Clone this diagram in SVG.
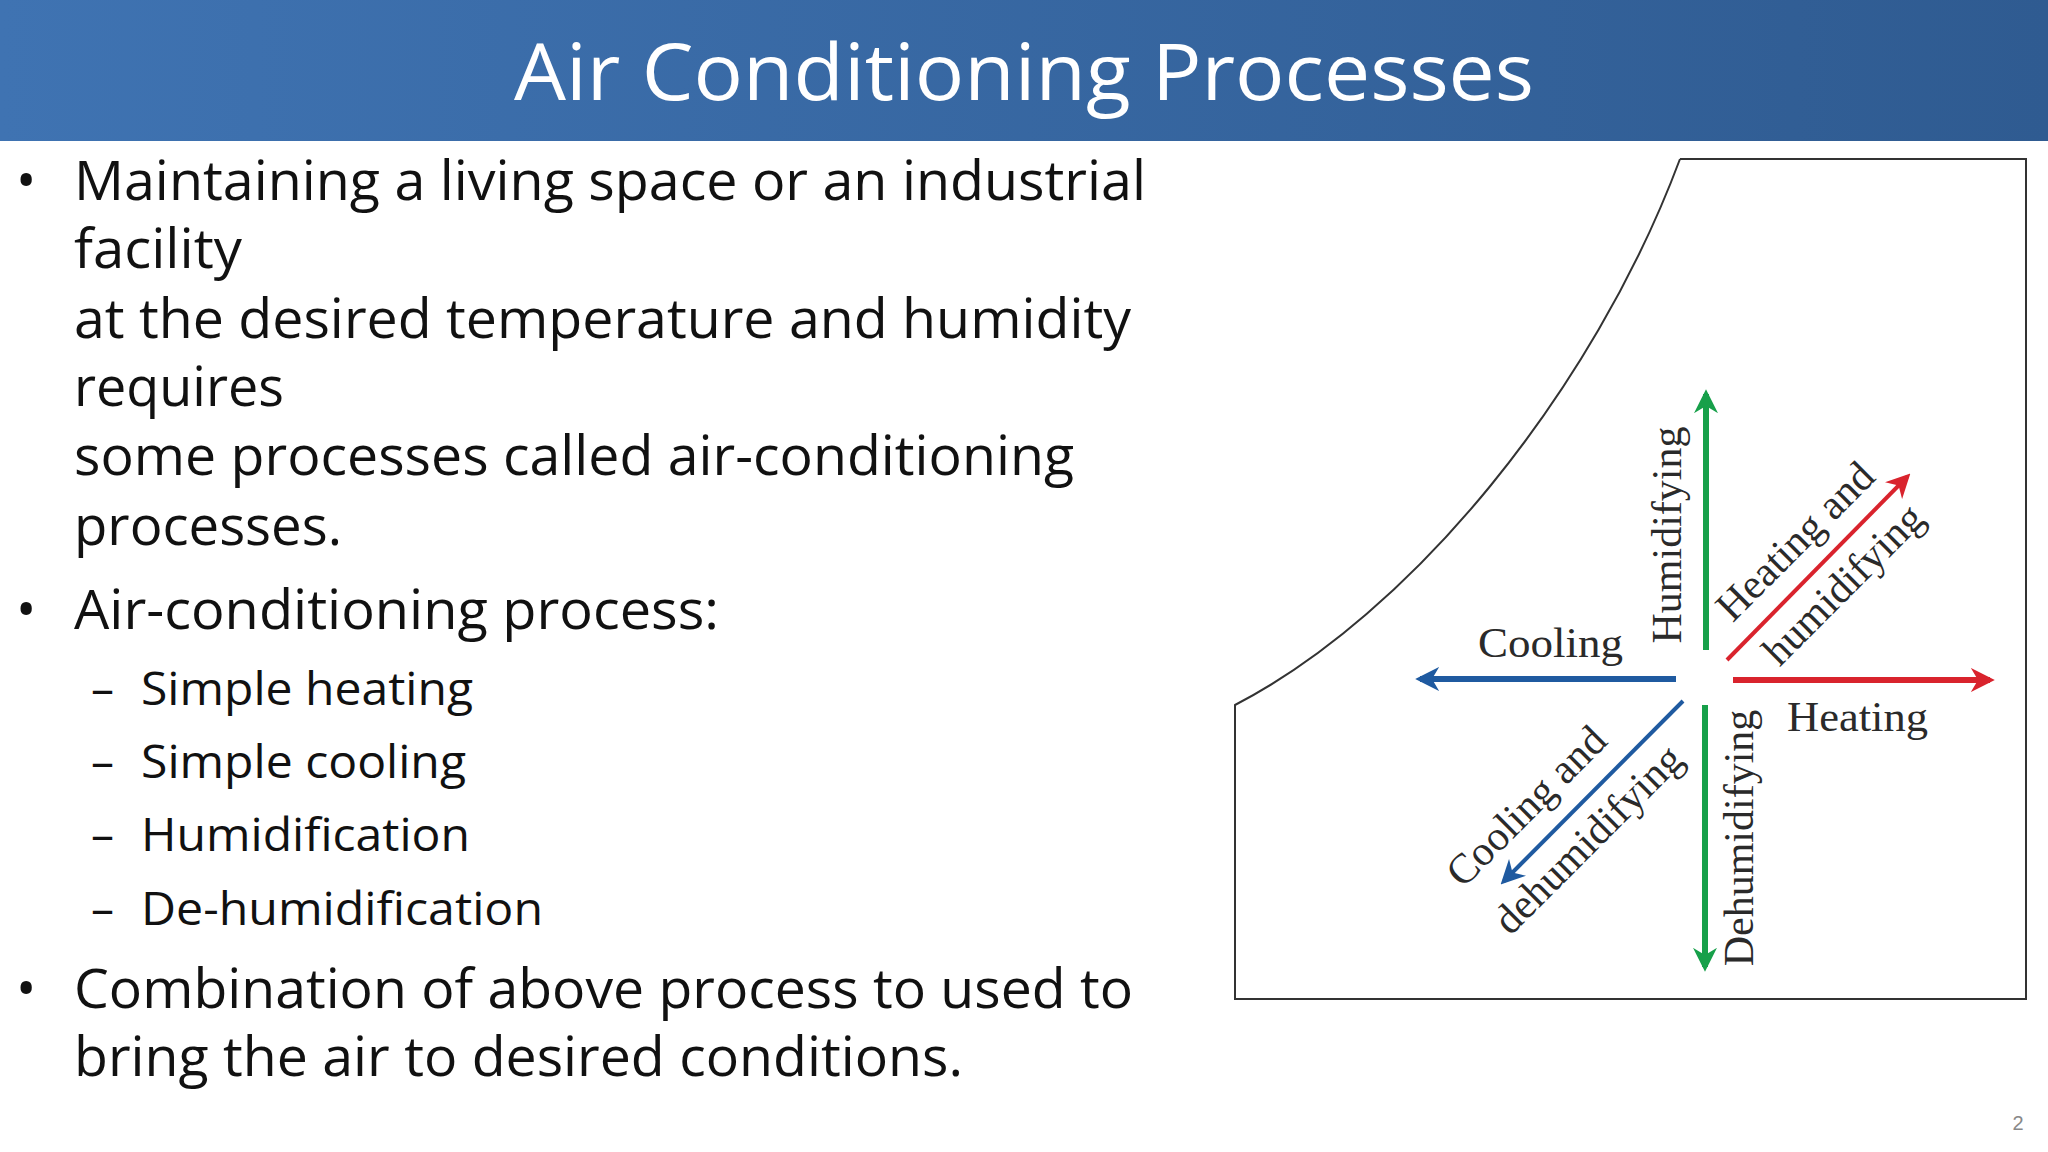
<svg xmlns="http://www.w3.org/2000/svg" width="2048" height="1152" viewBox="0 0 2048 1152">
<defs>
<linearGradient id="hg" x1="0" y1="0" x2="1" y2="0"><stop offset="0" stop-color="#3f73b2"/><stop offset="1" stop-color="#2f5b91"/></linearGradient>
<marker id="mb" viewBox="0 0 10 10" refX="8" refY="5" markerWidth="4" markerHeight="4" orient="auto" markerUnits="strokeWidth"><path d="M0,0 L10,5 L0,10 L3,5 Z" fill="#1f5aa0"/></marker>
<marker id="mr" viewBox="0 0 10 10" refX="8" refY="5" markerWidth="4" markerHeight="4" orient="auto" markerUnits="strokeWidth"><path d="M0,0 L10,5 L0,10 L3,5 Z" fill="#d9232d"/></marker>
<marker id="mg" viewBox="0 0 10 10" refX="8" refY="5" markerWidth="4" markerHeight="4" orient="auto" markerUnits="strokeWidth"><path d="M0,0 L10,5 L0,10 L3,5 Z" fill="#17a04a"/></marker>
<marker id="mb2" viewBox="0 0 10 10" refX="8" refY="5" markerWidth="6" markerHeight="6" orient="auto" markerUnits="strokeWidth"><path d="M0,0 L10,5 L0,10 L3,5 Z" fill="#1f5aa0"/></marker>
<marker id="mr2" viewBox="0 0 10 10" refX="8" refY="5" markerWidth="6" markerHeight="6" orient="auto" markerUnits="strokeWidth"><path d="M0,0 L10,5 L0,10 L3,5 Z" fill="#d9232d"/></marker>
</defs>
<style>
.b{font-family:"Open Sans","Liberation Sans",sans-serif;font-size:54px;fill:#111}
.s{font-family:"Open Sans","Liberation Sans",sans-serif;font-size:46px;fill:#111}
.l{font-family:"Liberation Serif",serif;font-size:42px;fill:#2a2a2a}
</style>
<rect width="2048" height="1152" fill="#fff"/>
<g id="header"><rect width="2048" height="141" fill="url(#hg)"/>
<text x="1024" y="100" text-anchor="middle" font-family="Open Sans, Liberation Sans, sans-serif" font-size="78" fill="#fff" textLength="1020" lengthAdjust="spacingAndGlyphs">Air Conditioning Processes</text></g>
<g id="bullets">
<text class="b" x="16" y="200">•</text><text class="b" x="16" y="629">•</text><text class="b" x="16" y="1008">•</text>
<text class="b" x="74" y="200" textLength="1072" lengthAdjust="spacingAndGlyphs">Maintaining a living space or an industrial</text>
<text class="b" x="74" y="268" textLength="168" lengthAdjust="spacingAndGlyphs">facility</text>
<text class="b" x="74" y="338" textLength="1057" lengthAdjust="spacingAndGlyphs">at the desired temperature and humidity</text>
<text class="b" x="74" y="406" textLength="210" lengthAdjust="spacingAndGlyphs">requires</text>
<text class="b" x="74" y="475" textLength="1000" lengthAdjust="spacingAndGlyphs">some processes called air-conditioning</text>
<text class="b" x="74" y="545" textLength="268" lengthAdjust="spacingAndGlyphs">processes.</text>
<text class="b" x="74" y="629" textLength="645" lengthAdjust="spacingAndGlyphs">Air-conditioning process:</text>
<text class="s" x="91" y="705">–</text><text class="s" x="141" y="705" textLength="332" lengthAdjust="spacingAndGlyphs">Simple heating</text>
<text class="s" x="91" y="778">–</text><text class="s" x="141" y="778" textLength="325" lengthAdjust="spacingAndGlyphs">Simple cooling</text>
<text class="s" x="91" y="851">–</text><text class="s" x="141" y="851" textLength="329" lengthAdjust="spacingAndGlyphs">Humidification</text>
<text class="s" x="91" y="925">–</text><text class="s" x="141" y="925" textLength="402" lengthAdjust="spacingAndGlyphs">De-humidification</text>
<text class="b" x="74" y="1008" textLength="1059" lengthAdjust="spacingAndGlyphs">Combination of above process to used to</text>
<text class="b" x="74" y="1076" textLength="889" lengthAdjust="spacingAndGlyphs">bring the air to desired conditions.</text>
</g>
<g id="chart"><path d="M1680,159 L2026,159 L2026,999 L1235,999 L1235,705 C1411,614 1593,392 1680,159" fill="none" stroke="#333" stroke-width="2"/></g>
<g id="connectors" fill="none">
<line x1="1676" y1="679" x2="1420" y2="679" stroke="#1f5aa0" stroke-width="6" marker-end="url(#mb)"/>
<line x1="1733" y1="680" x2="1990" y2="680" stroke="#d9232d" stroke-width="6" marker-end="url(#mr)"/>
<line x1="1706" y1="650" x2="1706" y2="394" stroke="#17a04a" stroke-width="6" marker-end="url(#mg)"/>
<line x1="1705" y1="705" x2="1705" y2="967" stroke="#17a04a" stroke-width="6" marker-end="url(#mg)"/>
<line x1="1727" y1="660" x2="1907" y2="477" stroke="#d9232d" stroke-width="4" marker-end="url(#mr2)"/>
<line x1="1683" y1="701" x2="1504" y2="881" stroke="#1f5aa0" stroke-width="4" marker-end="url(#mb2)"/>
</g>
<g id="labels">
<text class="l" x="1478" y="657" textLength="145" lengthAdjust="spacingAndGlyphs">Cooling</text>
<text class="l" x="1787" y="731" textLength="141" lengthAdjust="spacingAndGlyphs">Heating</text>
<text class="l" transform="translate(1681,535) rotate(-90)" text-anchor="middle">Humidifying</text>
<text class="l" transform="translate(1753,838) rotate(-90)" text-anchor="middle">Dehumidifying</text>
<text class="l" transform="translate(1805,551) rotate(-45)" text-anchor="middle">Heating and</text>
<text class="l" transform="translate(1853,594) rotate(-45)" text-anchor="middle">humidifying</text>
<text class="l" transform="translate(1536,816) rotate(-45)" text-anchor="middle">Cooling and</text>
<text class="l" transform="translate(1598,849) rotate(-45)" text-anchor="middle">dehumidifying</text>
</g>
<text x="2018" y="1130" font-family="Liberation Sans, sans-serif" font-size="20" fill="#888" text-anchor="middle">2</text>
</svg>
